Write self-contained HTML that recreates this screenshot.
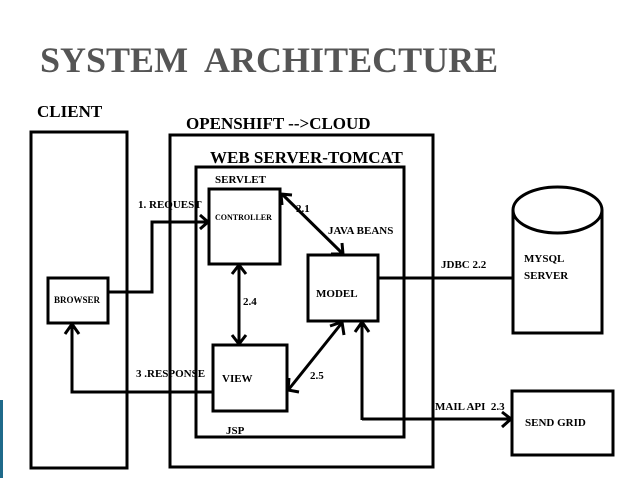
<!DOCTYPE html>
<html><head><style>
html,body{margin:0;padding:0;background:#fff;}
svg{display:block;}
text{font-family:"Liberation Serif",serif;font-weight:bold;fill:#000;}
</style></head><body>
<svg width="638" height="478" viewBox="0 0 638 478" xmlns="http://www.w3.org/2000/svg">
<rect x="0" y="400" width="3" height="78" fill="#1f6a8a"/>
<text x="40" y="72" font-size="36" style="fill:#555">SYSTEM&#160; ARCHITECTURE</text>
<g fill="none" stroke="#000" stroke-width="3">
<rect x="31" y="132" width="96" height="336"/>
<rect x="170" y="135" width="263" height="332"/>
<rect x="196" y="167" width="208" height="270"/>
<rect x="209" y="189" width="71" height="75"/>
<rect x="308" y="255" width="70" height="66"/>
<rect x="213" y="345" width="74" height="66"/>
<rect x="48" y="278" width="60" height="45"/>
<rect x="512" y="391" width="101" height="64"/>
<path d="M513 210 V333 H602 V210"/>
<ellipse cx="557.5" cy="210" rx="44.5" ry="23"/>
<!-- request -->
<path d="M108 292 H152 V222 H207"/>
<path d="M200 215 L208 222 L200 229"/>
<!-- controller-model -->
<path d="M282 194 L342 253"/>
<path d="M282 205 L281 194 L292 195"/>
<path d="M331 254 L343 254 L342 243"/>
<!-- controller-view -->
<path d="M239 266 V343"/>
<path d="M232 274 L239 265 L246 274"/>
<path d="M232 335 L239 344 L246 335"/>
<!-- response -->
<path d="M213 392 H72 V325"/>
<path d="M65 334 L72 324 L79 334"/>
<!-- view-model -->
<path d="M289 389 L341 324"/>
<path d="M289 378 L288 390 L299 392"/>
<path d="M330 326 L342 322 L344 335"/>
<!-- jdbc -->
<path d="M378 278 H513"/>
<!-- mail -->
<path d="M362 420 V323 M362 419 H510"/>
<path d="M355 332 L362 322 L369 332"/>
<path d="M502 412 L511 419 L502 427"/>
</g>
<g font-size="17"><text x="37" y="117">CLIENT</text>
<text x="186" y="129">OPENSHIFT --&gt;CLOUD</text>
<text x="210" y="163">WEB SERVER-TOMCAT</text></g>
<g font-size="11">
<text x="215" y="183">SERVLET</text>
<text x="138" y="208">1. REQUEST</text>
<text x="296" y="212">2.1</text>
<text x="328" y="234">JAVA BEANS</text>
<text x="54" y="303" font-size="9">BROWSER</text>
<text x="316" y="297">MODEL</text>
<text x="243" y="305">2.4</text>
<text x="136" y="377">3 .RESPONSE</text>
<text x="222" y="382">VIEW</text>
<text x="310" y="379">2.5</text>
<text x="226" y="434">JSP</text>
<text x="441" y="268">JDBC 2.2</text>
<text x="524" y="262">MYSQL</text>
<text x="524" y="279">SERVER</text>
<text x="435" y="410">MAIL API&#160; 2.3</text>
<text x="525" y="426">SEND GRID</text>
<text x="215" y="220" font-size="8">CONTROLLER</text>
</g>
</svg>
</body></html>
